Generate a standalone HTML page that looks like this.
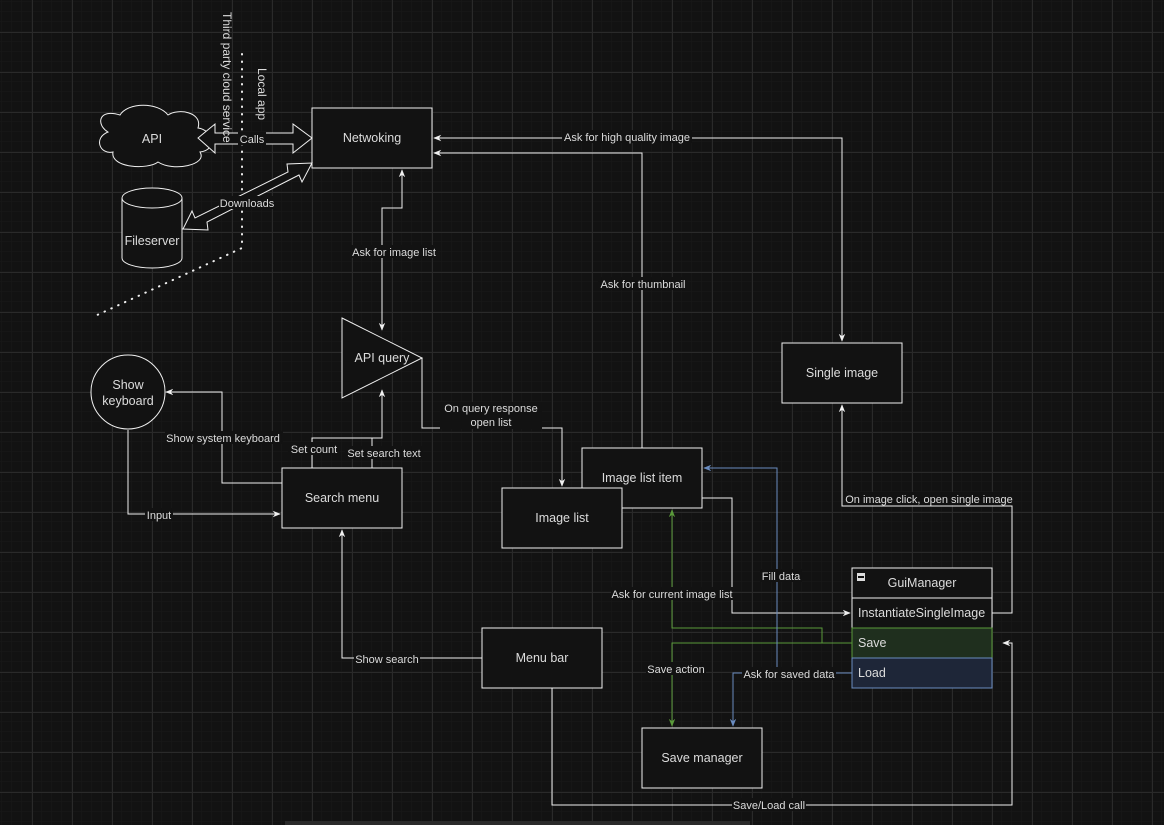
<!DOCTYPE html>
<html><head><meta charset="utf-8"><style>
html,body{margin:0;padding:0;background:#121212;}
svg{display:block;font-family:"Liberation Sans",Arial,sans-serif;}
</style></head><body>
<svg width="1164" height="825" viewBox="0 0 1164 825" xmlns="http://www.w3.org/2000/svg">
<defs>
<pattern id="minor" x="2" y="2" width="10" height="10" patternUnits="userSpaceOnUse"><path d="M10 0V10M0 10H10" fill="none" stroke="#191919" stroke-width="1"/></pattern>
<pattern id="major" x="32" y="32" width="40" height="40" patternUnits="userSpaceOnUse"><path d="M0.5 0V40M0 0.5H40" fill="none" stroke="#2a2a2a" stroke-width="1"/></pattern>
<marker id="aw" viewBox="0 0 10 10" refX="9" refY="5" markerWidth="8" markerHeight="8" orient="auto-start-reverse"><path d="M0 1L10 5L0 9L3 5Z" fill="#f0f0f0"/></marker>
<marker id="ag" viewBox="0 0 10 10" refX="9" refY="5" markerWidth="8" markerHeight="8" orient="auto-start-reverse"><path d="M0 1L10 5L0 9L3 5Z" fill="#5a9a3a"/></marker>
<marker id="ab" viewBox="0 0 10 10" refX="9" refY="5" markerWidth="8" markerHeight="8" orient="auto-start-reverse"><path d="M0 1L10 5L0 9L3 5Z" fill="#6a8cc0"/></marker>
</defs>
<rect width="1164" height="825" fill="#121212"/>
<rect width="1164" height="825" fill="url(#minor)"/>
<rect width="1164" height="825" fill="url(#major)"/>

<g fill="none" stroke="#f0f0f0" stroke-width="1">
<path d="M382 330V208H402V170" marker-end="url(#aw)" marker-start="url(#aw)"/>
<path d="M312 468V438H382V390" marker-end="url(#aw)"/>
<path d="M372 468V438"/>
<path d="M282 483H222V392H166" marker-end="url(#aw)"/>
<path d="M128 430V514H280" marker-end="url(#aw)"/>
<path d="M420 358L422 358V428H562V486" marker-end="url(#aw)"/>
<path d="M642 448V153H434" marker-end="url(#aw)"/>
<path d="M434 138H842V341" marker-end="url(#aw)" marker-start="url(#aw)"/>
<path d="M992 613H1012V506H842V405" marker-end="url(#aw)"/>
<path d="M702 498H732V613H850" marker-end="url(#aw)"/>
<path d="M482 658H342V530" marker-end="url(#aw)"/>
<path d="M552 688V805H1012V643H1003" marker-end="url(#aw)"/>
</g>
<g fill="none" stroke="#5a9a3a" stroke-width="1">
<path d="M852 643H822V628H672V510" marker-end="url(#ag)"/>
<path d="M852 643H672V726" marker-end="url(#ag)"/>
</g>
<g fill="none" stroke="#6a8cc0" stroke-width="1">
<path d="M852 673H777V468H704" marker-end="url(#ab)"/>
<path d="M777 673H733V726" marker-end="url(#ab)"/>
</g>

<path d="M242 54V248L95 316" fill="none" stroke="#f0f0f0" stroke-width="2" stroke-dasharray="0.5 7" stroke-linecap="round"/>

<g stroke="#f0f0f0" stroke-width="1" fill="#121212">
<rect x="312" y="108" width="120" height="60"/>
<path d="M122 85 C100 78 98 95 110 102 C95 108 102 125 115 122 C112 138 150 140 160 132 C175 142 210 135 202 122 C220 120 215 100 200 98 C205 82 180 78 170 85 C160 72 130 72 122 85 Z" transform="translate(-2,30)"/>
<path d="M122 198 V258 A30 10 0 0 0 182 258 V198 A30 10 0 0 0 122 198 Z M122 198 A30 10 0 0 0 182 198"/>
<path d="M342 318 L422 358 L342 398 Z"/>
<circle cx="128" cy="392" r="37"/>
<rect x="282" y="468" width="120" height="60"/>
<rect x="582" y="448" width="120" height="60"/>
<rect x="502" y="488" width="120" height="60"/>
<rect x="782" y="343" width="120" height="60"/>
<rect x="482" y="628" width="120" height="60"/>
<rect x="642" y="728" width="120" height="60"/>
<rect x="852" y="568" width="140" height="30"/>
<rect x="852" y="598" width="140" height="30"/>
</g>
<rect x="852" y="628" width="140" height="30" fill="#1f2f1e" stroke="#5a9a3a"/>
<rect x="852" y="658" width="140" height="30" fill="#1e2638" stroke="#6a8cc0"/>
<rect x="857" y="573" width="8" height="8" fill="#ddd"/><rect x="858" y="576" width="6" height="2" fill="#121212"/>

<g fill="#121212" stroke="#f0f0f0" stroke-width="1">
<path d="M198 138 L215 124 V133 H293 V124 L312 138 L293 153 V144 H215 V153 Z"/>
<path d="M312 163 L302 182 L299 175 L207 222 L208 230 L183 229 L192 211 L195 218 L288 172 L287 164 Z"/>
</g>

<g fill="#dcdcdc" font-size="12" text-anchor="middle">
<text x="372" y="142" font-size="12.5">Netwoking</text>
<text x="152" y="143" font-size="12.5">API</text>
<text x="152" y="245" font-size="12.5">Fileserver</text>
<text x="382" y="362" font-size="12.5">API query</text>
<text x="128" y="389" font-size="12.5">Show</text>
<text x="128" y="405" font-size="12.5">keyboard</text>
<text x="342" y="502" font-size="12.5">Search menu</text>
<text x="642" y="482" font-size="12.5">Image list item</text>
<text x="562" y="522" font-size="12.5">Image list</text>
<text x="842" y="377" font-size="12.5">Single image</text>
<text x="542" y="662" font-size="12.5">Menu bar</text>
<text x="702" y="762" font-size="12.5">Save manager</text>
<text x="922" y="587" font-size="12.5">GuiManager</text>
<text x="858" y="617" text-anchor="start" font-size="12.5">InstantiateSingleImage</text>
<text x="858" y="647" text-anchor="start" font-size="12.5">Save</text>
<text x="858" y="677" text-anchor="start" font-size="12.5">Load</text>
</g>

<g font-size="11" fill="#dcdcdc" text-anchor="middle">
<rect x="238" y="132" width="28" height="13" fill="#121212"/><text x="252" y="143">Calls</text>
<rect x="219" y="196" width="56" height="13" fill="#121212"/><text x="247" y="207">Downloads</text>
<rect x="350" y="245" width="88" height="13" fill="#121212"/><text x="394" y="256">Ask for image list</text>
<rect x="288" y="442" width="52" height="13" fill="#121212"/><text x="314" y="453">Set count</text>
<rect x="345" y="446" width="78" height="13" fill="#121212"/><text x="384" y="457">Set search text</text>
<rect x="165" y="431" width="118" height="13" fill="#121212"/><text x="223" y="442">Show system keyboard</text>
<rect x="145" y="508" width="28" height="13" fill="#121212"/><text x="159" y="519">Input</text>
<rect x="440" y="402" width="102" height="27" fill="#121212"/><text x="491" y="412">On query response</text><text x="491" y="426">open list</text>
<rect x="598" y="277" width="90" height="13" fill="#121212"/><text x="643" y="288">Ask for thumbnail</text>
<rect x="562" y="130" width="130" height="13" fill="#121212"/><text x="627" y="141">Ask for high quality image</text>
<rect x="845" y="492" width="168" height="13" fill="#121212"/><text x="929" y="503">On image click, open single image</text>
<rect x="611" y="587" width="122" height="13" fill="#121212"/><text x="672" y="598">Ask for current image list</text>
<rect x="760" y="569" width="42" height="13" fill="#121212"/><text x="781" y="580">Fill data</text>
<rect x="646" y="662" width="60" height="13" fill="#121212"/><text x="676" y="673">Save action</text>
<rect x="742" y="667" width="94" height="13" fill="#121212"/><text x="789" y="678">Ask for saved data</text>
<rect x="354" y="652" width="66" height="13" fill="#121212"/><text x="387" y="663">Show search</text>
<rect x="732" y="798" width="74" height="13" fill="#121212"/><text x="769" y="809">Save/Load call</text>
</g>

<g font-size="12" fill="#dcdcdc">
<text transform="translate(223,12) rotate(90)">Third party cloud service</text>
<text transform="translate(258,68) rotate(90)">Local app</text>
</g>
<rect x="285" y="821" width="465" height="4" fill="#2a2a2a"/>
</svg>
</body></html>
